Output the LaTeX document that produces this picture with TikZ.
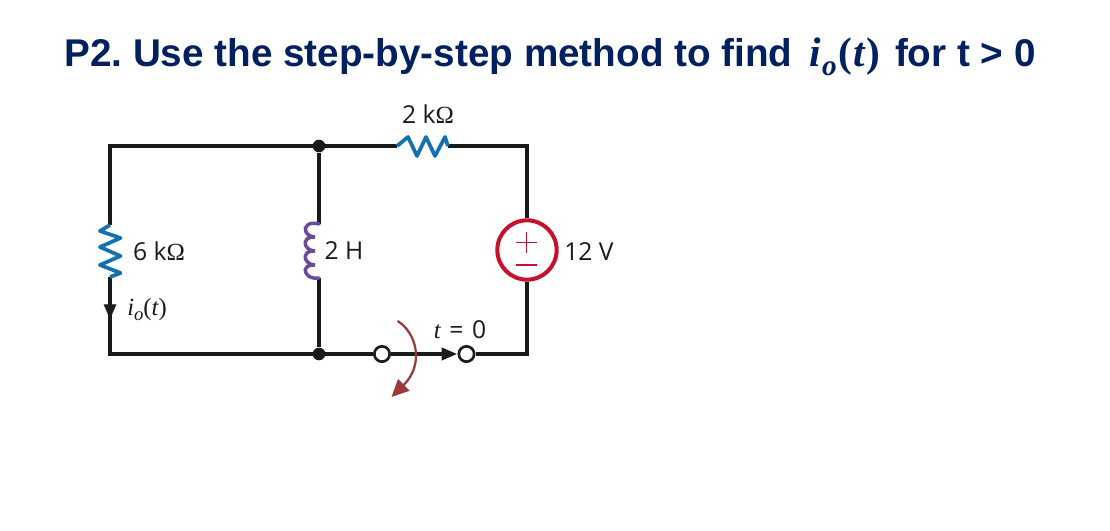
\documentclass[tikz,border=0pt]{standalone}
\usepackage{fontspec}
\setmainfont{Open Sans}
\newfontfamily\titlefont{Liberation Sans}
\newfontfamily\mathserif{Liberation Serif}
\usetikzlibrary{arrows.meta}
\definecolor{titleblue}{HTML}{002060}
\definecolor{wirecol}{HTML}{1A1A1A}
\definecolor{resblue}{HTML}{1470B0}
\definecolor{indpurple}{HTML}{6A4A9C}
\definecolor{srcred}{HTML}{C8102E}
\definecolor{swred}{HTML}{9B3A3A}
\newcommand{\ohmsym}{{\mathserif Ω}}
\tikzset{
  wire/.style={draw=wirecol,line width=3.2pt,line cap=butt,line join=miter},
  resistor/.style={draw=resblue,line width=2.8pt,line join=round},
  inductor/.style={draw=indpurple,line width=2.6pt,line cap=round},
  dotnode/.style={circle,fill=wirecol,inner sep=0pt,minimum size=9.5pt},
  swnode/.style={circle,draw=wirecol,fill=white,line width=2pt,inner sep=0pt,minimum size=11.5pt},
  srcnode/.style={circle,draw=srcred,fill=white,line width=3pt,inner sep=0pt,minimum size=44.5pt},
  lab/.style={inner sep=0pt,text=wirecol,font=\fontsize{18.5}{20}\selectfont},
}
\begin{document}
\begin{tikzpicture}[x=0.75pt,y=-0.75pt]
\useasboundingbox[fill=white] (0,0) rectangle (1110,531);
\node[anchor=base west,inner sep=0pt,text=titleblue,font=\titlefont\bfseries\fontsize{29}{32}\selectfont] (title) at (64,67)
  {\frenchspacing P2. Use the step-by-step method to find\hspace{12.5pt}{\mathserif\fontsize{31}{32}\selectfont\itshape i\kern1pt\raisebox{-0.2em}{\fontsize{22}{24}\selectfont o}\kern1.5pt\upshape(\kern1pt\itshape t\kern1pt\upshape)}\hspace{11pt}for t > 0};

% junctions and corners
\coordinate (tl) at (110,146);
\coordinate (tr) at (527,146);
\coordinate (bl) at (110,354);
\coordinate (br) at (527,354);
\coordinate (r2a) at (397,146);
\coordinate (r2b) at (448,146);
\coordinate (r6a) at (110,225);
\coordinate (r6b) at (110,277);
\coordinate (ind1) at (319,224);
\coordinate (ind2) at (319,278);
\node[dotnode] (jt) at (319,146) {};
\node[dotnode] (jb) at (319,354) {};
\node[srcnode] (src) at (527,250) {};
\node[swnode] (sw1) at (382,354) {};
\node[swnode] (sw2) at (466.5,354) {};

% wires
\draw[wire] (r6a) -- (tl) -- (jt.center) -- (r2a);
\draw[wire] (r2b) -- (tr) -- (src.north);
\draw[wire] (src.south) -- (br) -- (sw2.east);
\draw[wire] (sw1.west) -- (bl) -- (r6b);
\draw[wire] (jt) -- (ind1);
\draw[wire] (ind2) -- (jb);
\draw[draw=wirecol,line width=3.2pt,-{Triangle[length=12pt,width=9pt]}] (sw1.east) -- (sw2.west);
\coordinate (ia) at (110,300);
\coordinate (ib) at (110,319);
\draw[-{Triangle[length=11pt,width=9.5pt]},draw=wirecol,line width=0.1pt] (ia) -- (ib);

% resistors
\draw[resistor] (r2a) -- (408,137) -- (417,156) -- (426,137) -- (435,156) -- (445,137) -- (r2b);
\draw[resistor] (r6a) -- (100,231) -- (120.5,238) -- (100,247) -- (120.5,256) -- (100,265) -- (120.5,273) -- (r6b);

% inductor
\draw[inductor] (ind1) .. controls (309,221) and (303,227) .. (306,232)
  .. controls (308,236) and (313,237) .. (315,237)
  .. controls (309,236) and (303,240) .. (306,246)
  .. controls (308,250) and (313,251) .. (315,251)
  .. controls (309,250) and (303,254) .. (306,260)
  .. controls (308,264) and (313,265) .. (315,265)
  .. controls (309,264) and (303,268) .. (306,273)
  .. controls (308,277) and (313,279) .. (ind2);

% source polarity
\draw[draw=srcred,line width=1.4pt] (516,242.5) -- (537,242.5) (526.5,232) -- (526.5,253);
\draw[draw=srcred,line width=1.4pt] (516,265) -- (537,265);

% switch throw
\coordinate (swa) at (397.5,321);
\coordinate (swb) at (391.5,397);
\draw[draw=swred,line width=1.7pt,-{Triangle[length=13pt,width=12pt]}] (swa) .. controls (416,332) and (425,364) .. (swb);

% labels
\node[lab] (l2k) at (428,114) {2 k\ohmsym};
\node[lab] (l6k) at (159,251) {6 k\ohmsym};
\node[lab] (l2h) at (344,251) {2 H};
\node[lab] (l12) at (589,252) {12 V};
\node[lab] (lio) at (147,310) {\mathserif\fontsize{18.5}{20}\selectfont\itshape i\raisebox{-0.2em}{\fontsize{14}{16}\selectfont o}\upshape(\itshape t\upshape)};
\node[lab] (lt) at (460,330) {{\mathserif\itshape t}\hspace{0.35em}=\hspace{0.35em}0};
\end{tikzpicture}
\end{document}
